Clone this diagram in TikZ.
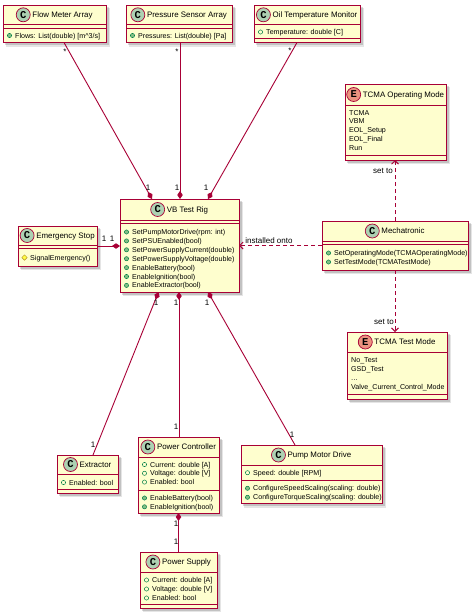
\documentclass[tikz,border=0pt]{standalone}
\usepackage{fontspec}
\setmainfont{Liberation Sans}
\newfontfamily\spotfont{Liberation Mono}
\usetikzlibrary{arrows.meta,calc,shapes.geometric}
\definecolor{umlred}{HTML}{A80036}
\definecolor{umlfill}{HTML}{FEFECE}
\definecolor{classspot}{HTML}{ADD1B2}
\definecolor{enumspot}{HTML}{EB937F}
\definecolor{pubfill}{HTML}{84BE84}
\definecolor{pubdraw}{HTML}{038048}
\definecolor{protfill}{HTML}{FFFF44}
\definecolor{protdraw}{HTML}{B38D22}
\newcounter{mc}
\tikzset{
  classbox/.style={rectangle, draw=umlred, fill=umlfill, line width=0.9pt, inner sep=0pt, outer sep=0pt},
  shadowA/.style={fill=black, opacity=0.15},
  shadowB/.style={fill=black, opacity=0.10},
  secline/.style={draw=umlred, line width=0.9pt},
  nametext/.style={inner sep=0pt, font=\fontsize{7.9}{9}\selectfont, anchor=base},
  membertext/.style={inner sep=0pt, font=\fontsize{7.1}{8}\selectfont, anchor=base west},
  spotC/.style={circle, draw=umlred, line width=0.7pt, fill=classspot, minimum size=14pt, inner sep=0pt, font=\spotfont\bfseries\fontsize{10.5}{10.5}\selectfont},
  spotE/.style={spotC, fill=enumspot},
  pubmethod/.style={circle, fill=pubfill, draw=pubdraw, line width=0.5pt, minimum size=4.2pt, inner sep=0pt},
  pubfield/.style={circle, fill=none, draw=pubdraw, line width=0.5pt, minimum size=4.2pt, inner sep=0pt},
  protmethod/.style={diamond, fill=protfill, draw=protdraw, line width=0.5pt, minimum size=5.5pt, inner sep=0pt},
  comp/.style={draw=umlred, line width=0.9pt, -{Diamond[length=8pt,width=5.5pt]}},
  dep/.style={draw=umlred, line width=0.9pt, dash pattern=on 4pt off 3pt, -{Straight Barb[length=3.5pt,width=7pt]}},
  lbl/.style={inner sep=0pt, font=\fontsize{8}{9}\selectfont},
}
% box: name, x1, y1, x2, y2
\newcommand{\umlbox}[5]{%
  \fill[shadowA] ({#2+2},{#3+2}) rectangle ({#4+2.5},{#5+2.5});
  \fill[shadowB] ({#2+3},{#3+3}) rectangle ({#4+4},{#5+4});
  \node[classbox, minimum width={(#4)-(#2)}, minimum height={(#5)-(#3)}] (#1) at ({((#2)+(#4))/2},{((#3)+(#5))/2}) {};
}
% header: box, letter, spot style, y, name
\newcommand{\umlhead}[5]{%
  \node[nametext] (#1-t) at ($(#1.center |- 0,#4)+(8,2.8)$) {#5};
  \node[#3] (#1-c) at ($(#1-t.west |- 0,#4)+(-9,0)$) {#2};
}
\newcommand{\hsep}[2]{\draw[secline] (#1.west |- 0,#2) -- (#1.east |- 0,#2);}
% member: box, icon style, y, text
\newcommand{\member}[4]{%
  \stepcounter{mc}%
  \node[#2] (ic\arabic{mc}) at ($(#1.west |- 0,#3)+(6.5,0)$) {};
  \node[membertext] (mt\arabic{mc}) at ($(#1.west |- 0,#3)+(12,2.5)$) {#4};
}
% enum value: box, y, text
\newcommand{\enumval}[3]{%
  \stepcounter{mc}%
  \node[membertext] (ev\arabic{mc}) at ($(#1.west |- 0,#2)+(4,2.5)$) {#3};
}
\begin{document}
\begin{tikzpicture}[x=1pt, y=-1pt]
\useasboundingbox (0,0) rectangle (474,616);
\fill[white] (0,0) rectangle (474,616);

% Flow Meter Array
\umlbox{flow}{3}{5}{106}{42.5}
\umlhead{flow}{C}{spotC}{14.8}{Flow Meter Array}
\hsep{flow}{24.5}\hsep{flow}{28}
\member{flow}{pubmethod}{35.5}{Flows: List(double) [m\textasciicircum 3/s]}

% Pressure Sensor Array
\umlbox{pres}{126}{5}{232}{42.5}
\umlhead{pres}{C}{spotC}{14.8}{Pressure Sensor Array}
\hsep{pres}{24.5}\hsep{pres}{28}
\member{pres}{pubmethod}{35.5}{Pressures: List(double) [Pa]}

% Oil Temperature Monitor
\umlbox{oil}{254}{5}{360}{42.5}
\umlhead{oil}{C}{spotC}{14.8}{Oil Temperature Monitor}
\hsep{oil}{24.5}
\member{oil}{pubfield}{32}{Temperature: double [C]}
\hsep{oil}{38.5}

% TCMA Operating Mode
\umlbox{opm}{345}{84}{446}{160}
\umlhead{opm}{E}{spotE}{94.5}{TCMA Operating Mode}
\hsep{opm}{105}
\enumval{opm}{112.5}{TCMA}
\enumval{opm}{121.3}{VBM}
\enumval{opm}{130.1}{EOL\_Setup}
\enumval{opm}{138.9}{EOL\_Final}
\enumval{opm}{147.7}{Run}
\hsep{opm}{155.5}

% Emergency Stop
\umlbox{es}{18}{226}{97}{266}
\umlhead{es}{C}{spotC}{235.5}{Emergency Stop}
\hsep{es}{245}\hsep{es}{248.5}
\member{es}{protmethod}{257.5}{SignalEmergency()}

% VB Test Rig
\umlbox{vb}{120}{199}{239}{292}
\umlhead{vb}{C}{spotC}{209.5}{VB Test Rig}
\hsep{vb}{220}\hsep{vb}{223.5}
\member{vb}{pubmethod}{232}{SetPumpMotorDrive(rpm: int)}
\member{vb}{pubmethod}{240.9}{SetPSUEnabled(bool)}
\member{vb}{pubmethod}{249.8}{SetPowerSupplyCurrent(double)}
\member{vb}{pubmethod}{258.7}{SetPowerSupplyVoltage(double)}
\member{vb}{pubmethod}{267.6}{EnableBattery(bool)}
\member{vb}{pubmethod}{276.5}{EnableIgnition(bool)}
\member{vb}{pubmethod}{285.4}{EnableExtractor(bool)}

% Mechatronic
\umlbox{mech}{322}{221}{468}{270}
\umlhead{mech}{C}{spotC}{231}{Mechatronic}
\hsep{mech}{241}\hsep{mech}{244.5}
\member{mech}{pubmethod}{253}{SetOperatingMode(TCMAOperatingMode)}
\member{mech}{pubmethod}{262}{SetTestMode(TCMATestMode)}

% TCMA Test Mode
\umlbox{tm}{347}{332}{447}{399}
\umlhead{tm}{E}{spotE}{342}{TCMA Test Mode}
\hsep{tm}{352}
\enumval{tm}{360}{No\_Test}
\enumval{tm}{369}{GSD\_Test}
\enumval{tm}{378}{\textcolor{black!80}{\fontsize{8}{8}\selectfont ...}}
\enumval{tm}{387}{Valve\_Current\_Control\_Mode}
\hsep{tm}{394.5}

% Extractor
\umlbox{ext}{57}{455}{118}{493}
\umlhead{ext}{C}{spotC}{464.5}{Extractor}
\hsep{ext}{474}
\member{ext}{pubfield}{482.5}{Enabled: bool}
\hsep{ext}{489}

% Power Controller
\umlbox{pc}{138}{437}{219}{513}
\umlhead{pc}{C}{spotC}{447}{Power Controller}
\hsep{pc}{457}
\member{pc}{pubfield}{464.5}{Current: double [A]}
\member{pc}{pubfield}{473.3}{Voltage: double [V]}
\member{pc}{pubfield}{482.1}{Enabled: bool}
\hsep{pc}{490}
\member{pc}{pubmethod}{498}{EnableBattery(bool)}
\member{pc}{pubmethod}{506.8}{EnableIgnition(bool)}

% Pump Motor Drive
\umlbox{pump}{241}{445}{382}{503.5}
\umlhead{pump}{C}{spotC}{455}{Pump Motor Drive}
\hsep{pump}{465}
\member{pump}{pubfield}{472.7}{Speed: double [RPM]}
\hsep{pump}{480}
\member{pump}{pubmethod}{488.3}{ConfigureSpeedScaling(scaling: double)}
\member{pump}{pubmethod}{497.3}{ConfigureTorqueScaling(scaling: double)}

% Power Supply
\umlbox{ps}{140}{552}{217}{608}
\umlhead{ps}{C}{spotC}{562}{Power Supply}
\hsep{ps}{572}
\member{ps}{pubfield}{580}{Current: double [A]}
\member{ps}{pubfield}{589}{Voltage: double [V]}
\member{ps}{pubfield}{598}{Enabled: bool}
\hsep{ps}{604}

% attach points
\coordinate (flowB) at ([xshift=61pt]flow.south west);
\coordinate (presB) at ([xshift=54pt]pres.south west);
\coordinate (oilB) at ([xshift=43pt]oil.south west);
\coordinate (vbT1) at ([xshift=32pt]vb.north west);
\coordinate (vbT2) at ([xshift=60pt]vb.north west);
\coordinate (vbT3) at ([xshift=88pt]vb.north west);
\coordinate (vbB1) at ([xshift=38.5pt]vb.south west);
\coordinate (vbB2) at ([xshift=59pt]vb.south west);
\coordinate (vbB3) at ([xshift=88pt]vb.south west);
\coordinate (extT) at ([xshift=36pt]ext.north west);
\coordinate (pcT) at ([xshift=41pt]pc.north west);
\coordinate (pumpT) at ([xshift=54pt]pump.north west);

% connectors
\draw[comp] (flowB) -- (vbT1);
\draw[comp] (presB) -- (vbT2);
\draw[comp] (oilB) -- (vbT3);
\draw[comp] (extT) -- (vbB1);
\draw[comp] (pcT) -- (vbB2);
\draw[comp] (pumpT) -- (vbB3);
\draw[comp] (ps.north) -- (pc.south);
\draw[comp] (es.east) -- (es.east -| vb.west);
\draw[dep] (mech.west) -- (mech.west -| vb.east);
\draw[dep] (mech.north) -- (mech.north |- opm.south);
\draw[dep] (mech.south) -- (mech.south |- tm.north);

% labels
\node[lbl] (s1) at (65,52) {*};
\node[lbl] (s2) at (177,52) {*};
\node[lbl] (s3) at (290,51) {*};
\node[lbl] (t1) at (148,188) {1};
\node[lbl] (t2) at (177,188) {1};
\node[lbl] (t3) at (206,188) {1};
\node[lbl] (b1) at (156,303) {1};
\node[lbl] (b2) at (176,303) {1};
\node[lbl] (b3) at (207,303) {1};
\node[lbl] (e1) at (93,445) {1};
\node[lbl] (p1) at (176,427) {1};
\node[lbl] (m1) at (292,435) {1};
\node[lbl] (c1) at (176,524) {1};
\node[lbl] (c2) at (176,542) {1};
\node[lbl] (q1) at (104,239) {1};
\node[lbl] (q2) at (112,239) {1};
\node[lbl] (inst) at (269,241) {installed onto};
\node[lbl] (set1) at (383,171) {set to};
\node[lbl] (set2) at (384,322) {set to};
\end{tikzpicture}
\end{document}
